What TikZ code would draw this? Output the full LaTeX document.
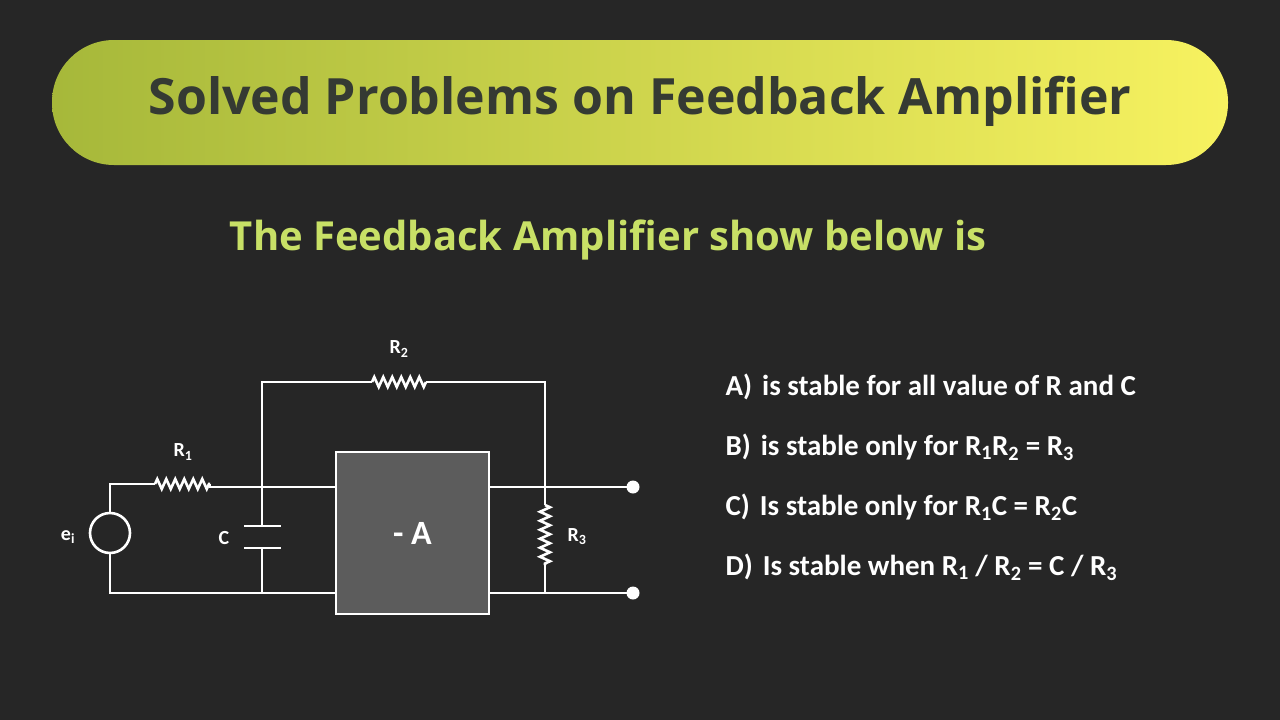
\documentclass[tikz,border=0pt]{standalone}
\usepackage{fontspec}
\setmainfont{Open Sans}
\newfontfamily\carl{Carlito}
\usetikzlibrary{decorations.pathmorphing}
\definecolor{bg}{HTML}{262626}
\definecolor{gl}{HTML}{A6B83A}
\definecolor{gr}{HTML}{F7F260}
\definecolor{sub}{HTML}{C8E066}
\definecolor{tt}{HTML}{353A33}
\begin{document}
\begin{tikzpicture}[x=1pt,y=-1pt,
  wire/.style={white,line width=2.6pt},
  res/.style={wire,decorate,decoration={zigzag,segment length=9pt,amplitude=5pt}},
  lbl/.style={white,font=\carl\bfseries\fontsize{20}{22}\selectfont},
  opt/.style={white,anchor=west,font=\carl\bfseries\fontsize{29}{32}\selectfont},
  dot/.style={circle,fill=white,inner sep=0pt,minimum size=13pt}]
\fill[bg] (0,0) rectangle (1280,720);
\useasboundingbox (0,0) rectangle (1280,720);
\shade[left color=gl,right color=gr,rounded corners=62pt] (52,40) rectangle (1228,165);
\node[tt,font=\bfseries\fontsize{50}{56}\selectfont] (title) at (640,101) {Solved Problems on Feedback Amplifier};
\node[sub,font=\bfseries\fontsize{40}{46}\selectfont] (subt) at (608,240) {The Feedback Amplifier show below is};
% box
\node[draw=white,line width=2.6pt,fill=white!25!bg,minimum width=153pt,minimum height=162pt,inner sep=0pt,
  font=\carl\bfseries\fontsize{34}{36}\selectfont,text=white] (A) at (412.5,533) {- A};
\node[draw=white,line width=2.6pt,circle,minimum size=40pt,inner sep=0pt] (src) at (110,533) {};
\coordinate (tl) at (110,484); \coordinate (bl) at (110,593);
\coordinate (r1a) at (155,484); \coordinate (r1b) at (210,484);
\coordinate (n1) at (262,487); \coordinate (n1t) at (262,382);
\coordinate (r2a) at (372,382); \coordinate (r2b) at (426,382);
\coordinate (n2t) at (545,382); \coordinate (n2) at (545,487);
\coordinate (r3a) at (545,505); \coordinate (r3b) at (545,565);
\coordinate (n2b) at (545,593);
\coordinate (o1) at (633,487); \coordinate (o2) at (633,593);
\coordinate (cb) at (262,593);
\coordinate (c1) at (262,526); \coordinate (c2) at (262,548);
\draw[wire] (src.north) -- (tl) -- (r1a);
\draw[res] (r1a) -- (r1b);
\draw[wire] (r1b) -- (210,487) -- (A.west |- n1);
\draw[wire] (src.south) -- (bl) -- (A.west |- bl);
\draw[wire] (n1) -- (c1); \draw[wire] (c2) -- (cb);
\draw[wire] (244,526) -- (281,526); \draw[wire] (244,548) -- (281,548);
\draw[wire] (n1) -- (n1t) -- (r2a);
\draw[res] (r2a) -- (r2b);
\draw[wire] (r2b) -- (n2t) -- (n2) -- (r3a);
\draw[res] (r3a) -- (r3b);
\draw[wire] (r3b) -- (n2b);
\draw[wire] (A.east |- n2) -- (o1);
\draw[wire] (A.east |- n2b) -- (o2);
\node[dot] (d1) at (o1) {}; \node[dot] (d2) at (o2) {};
\node[lbl] (l1) at (183,452) {R\textsubscript{1}};
\node[lbl] (l2) at (399,349) {R\textsubscript{2}};
\node[lbl] (l3) at (577,537) {R\textsubscript{3}};
\node[lbl] (lc) at (224,538) {C};
\node[lbl] (le) at (68,537) {e\textsubscript{i}};
\node[opt] (oa) at (722,387) {A)\hspace{10pt}is stable for all value of R and C};
\node[opt] (ob) at (722,447) {B)\hspace{10pt}is stable only for R\textsubscript{1}R\textsubscript{2} = R\textsubscript{3}};
\node[opt] (oc) at (722,507) {C)\hspace{10pt}Is stable only for R\textsubscript{1}C = R\textsubscript{2}C};
\node[opt] (od) at (722,567) {D)\hspace{10pt}Is stable when R\textsubscript{1} / R\textsubscript{2} = C / R\textsubscript{3}};
\end{tikzpicture}
\end{document}
